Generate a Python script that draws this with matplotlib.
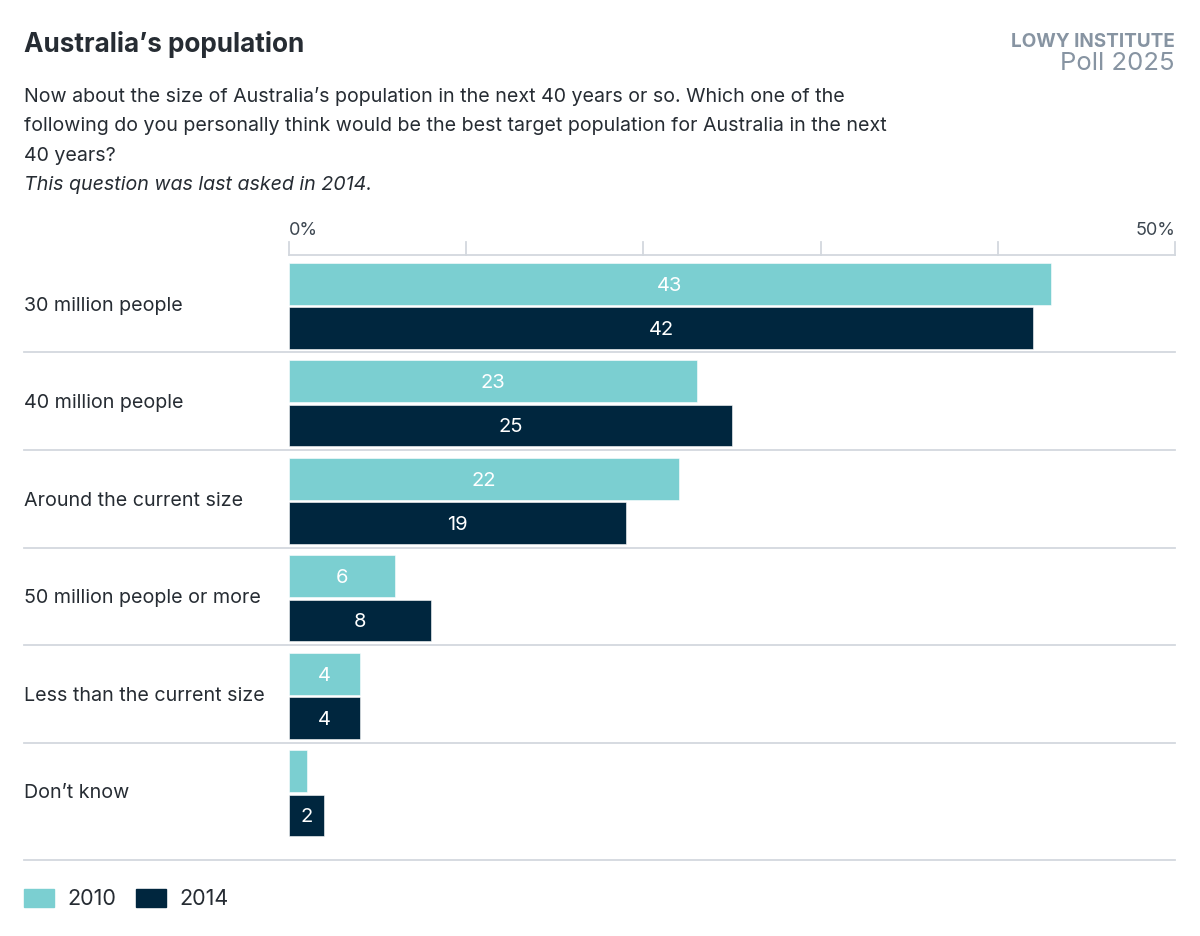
import matplotlib
matplotlib.use("Agg")
import matplotlib.pyplot as plt
from matplotlib.patches import Rectangle
import matplotlib.transforms as mtransforms

plt.rcParams['font.family'] = ['Inter', 'DejaVu Sans']

categories = ["30 million people", "40 million people", "Around the current size",
              "50 million people or more", "Less than the current size", "Don\u2019t know"]
values_2010 = [43, 23, 22, 6, 4, 1]
values_2014 = [42, 25, 19, 8, 4, 2]
series_names = ["2010", "2014"]
xticks = [0, 10, 20, 30, 40, 50]

C2010 = "#7BCFD1"
C2014 = "#00263E"
TXT = "#262C33"
GRID = "#D3D8DE"
LOGO = "#8794A2"

W, H = 1200, 936
fig = plt.figure(figsize=(W / 100, H / 100), dpi=100)

def fx(px):
    return px / W

def fy(py):
    return 1 - py / H

ax_left, ax_right, ax_top, ax_bot = 289, 1175, 255, 860
ax = fig.add_axes([fx(ax_left), fy(ax_bot), fx(ax_right - ax_left), (ax_bot - ax_top) / H])
group_px = 97.5
ymax = (ax_bot - ax_top) / group_px
ax.set_xlim(0, 50)
ax.set_ylim(ymax, 0)
ax.axis("off")

bh = 0.43
off1, off2 = 0.297, 0.749
for i, (a, b) in enumerate(zip(values_2010, values_2014)):
    ax.barh(i + off1, a, height=bh, color=C2010, edgecolor="white", linewidth=0.4)
    ax.barh(i + off2, b, height=bh, color=C2014, edgecolor="white", linewidth=0.4)
    if a >= 2:
        ax.text(a / 2, i + off1 + 0.02, str(a), ha="center", va="center", color="white", fontsize=14.5)
    if b >= 2:
        ax.text(b / 2, i + off2 + 0.02, str(b), ha="center", va="center", color="white", fontsize=14.5)

trans = mtransforms.blended_transform_factory(ax.transAxes, ax.transData)
x0 = (24 - ax_left) / (ax_right - ax_left)
for i in range(1, len(categories)):
    ax.plot([x0, 1], [i, i], transform=trans, color=GRID, lw=1.3, clip_on=False, zorder=0)
ax.plot([x0, 1], [ymax, ymax], transform=trans, color=GRID, lw=1.3, clip_on=False, zorder=0)

tick_top = (ax_top - 242) / group_px
ax.plot([0, 50], [0, 0], color=GRID, lw=1.3, clip_on=False)
for t in xticks:
    ax.plot([t, t], [0, -tick_top], color=GRID, lw=1.3, clip_on=False)
ax.text(0, -(ax_top - 231) / group_px, "0%", ha="left", va="center", color="#3C4650", fontsize=13)
ax.text(50, -(ax_top - 231) / group_px, "50%", ha="right", va="center", color="#3C4650", fontsize=13)

for i, c in enumerate(categories):
    fig.text(fx(24), fy(ax_top + (i + 0.5) * group_px + 2), c, ha="left", va="center",
             color=TXT, fontsize=14.2)

fig.text(fx(24), fy(44), "Australia\u2019s population", ha="left", va="center",
         color=TXT, fontsize=18.8, fontweight="bold")
sub = ["Now about the size of Australia\u2019s population in the next 40 years or so. Which one of the",
       "following do you personally think would be the best target population for Australia in the next",
       "40 years?"]
for k, s in enumerate(sub):
    fig.text(fx(24), fy(96 + k * 30), s, ha="left", va="center", color=TXT, fontsize=14.15)
fig.text(fx(24), fy(185), "This question was last asked in 2014.", ha="left", va="center",
         color=TXT, fontsize=14.15, style="italic")

fig.text(fx(1175), fy(42), "LOWY INSTITUTE", ha="right", va="center", color=LOGO,
         fontsize=13.6, fontweight="bold")
fig.text(fx(1175), fy(63), "Poll 2025", ha="right", va="center", color=LOGO, fontsize=18.5)

for (lx, col, name) in [(24, C2010, series_names[0]), (136, C2014, series_names[1])]:
    fig.patches.append(Rectangle((fx(lx), fy(907)), fx(30), 18 / H, transform=fig.transFigure,
                                 color=col, figure=fig))
    fig.text(fx(lx + 43), fy(899), name, ha="left", va="center", color=TXT, fontsize=15.5)

fig.savefig("out.png", dpi=100, facecolor="white")
